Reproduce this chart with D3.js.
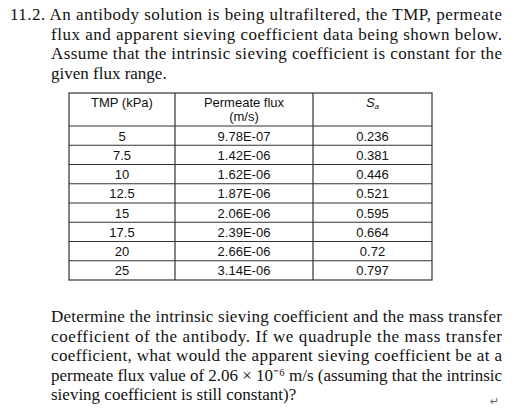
<!DOCTYPE html>
<html><head><meta charset="utf-8">
<script src="https://cdn.jsdelivr.net/npm/d3@7"></script>
<style>body{margin:0;background:#fff}</style></head>
<body><svg width="520" height="411"></svg>
<script>
// table data
var tmp = ["5", "7.5", "10", "12.5", "15", "17.5", "20", "25"];
var flux = ["9.78E-07", "1.42E-06", "1.62E-06", "1.87E-06", "2.06E-06", "2.39E-06", "2.66E-06", "3.14E-06"];
var sa = ["0.236", "0.381", "0.446", "0.521", "0.595", "0.664", "0.72", "0.797"];

var topLines = [
  ["11.2. An antibody solution is being ultrafiltered, the TMP, permeate", 10, true],
  ["flux and apparent sieving coefficient data being shown below.", 51, true],
  ["Assume that the intrinsic sieving coefficient is constant for the", 51, true],
  ["given flux range.", 51, false]
];
var botLines = [
  ["Determine the intrinsic sieving coefficient and the mass transfer", 51, true],
  ["coefficient of the antibody. If we quadruple the mass transfer", 51, true],
  ["coefficient, what would the apparent sieving coefficient be at a", 51, true],
  ["permeate flux value of 2.06 \u00d7 10\u207b\u2076 m/s (assuming that the intrinsic", 51, true],
  ["sieving coefficient is still constant)?", 51, false]
];

var svg = d3.select("svg");
var serif = "'Times New Roman', Tinos, 'Liberation Serif', serif";

function para(lines, y0) {
  var y = d3.scaleLinear().domain([0, 1]).range([y0, y0 + 19.5]);
  svg.selectAll(null).data(lines).enter().append("text")
    .attr("x", d => d[1]).attr("y", (d, i) => y(i))
    .attr("font-family", serif).attr("font-size", 17)
    .attr("fill", "#111")
    .attr("textLength", d => d[2] ? 502 - d[1] : null)
    .attr("lengthAdjust", "spacing")
    .text(d => d[0]);
}
para(topLines, 20);
para(botLines, 322);

// table
var cols = [69, 175, 313, 432];
var rowY = d3.scaleLinear().domain([0, 8]).range([126, 280]);
var g = svg.append("g").attr("stroke", "#333").attr("stroke-width", 1.2);
g.append("rect").attr("x", cols[0]).attr("y", 93).attr("width", cols[3] - cols[0]).attr("height", 280 - 93).attr("fill", "none");
[1, 2].forEach(c => g.append("line").attr("x1", cols[c]).attr("x2", cols[c]).attr("y1", 93).attr("y2", 280));
d3.range(0, 8).forEach(r => g.append("line").attr("x1", cols[0]).attr("x2", cols[3]).attr("y1", rowY(r)).attr("y2", rowY(r)));

var sans = "Arial, Arimo, 'Liberation Sans', sans-serif";
function cell(x, y, t) {
  return svg.append("text").attr("x", x).attr("y", y).attr("text-anchor", "middle")
    .attr("font-family", sans).attr("font-size", 13).attr("fill", "#111").text(t);
}
var cx = [(cols[0] + cols[1]) / 2, (cols[1] + cols[2]) / 2, (cols[2] + cols[3]) / 2];
cell(cx[0], 107, "TMP (kPa)");
cell(cx[1], 107, "Permeate flux");
cell(cx[1], 121, "(m/s)");
var s = cell(cx[2], 107, "S").attr("font-style", "italic");
s.append("tspan").attr("font-size", 8).attr("dy", 2).text("a");
[tmp, flux, sa].forEach(function (arr, c) {
  arr.forEach((v, r) => cell(cx[c], rowY(r) + 14.5, v));
});

svg.append("text").attr("x", 490).attr("y", 405).attr("font-family", "DejaVu Sans")
  .attr("font-size", 11).attr("fill", "#666").text("\u21b5");
</script></body></html>
